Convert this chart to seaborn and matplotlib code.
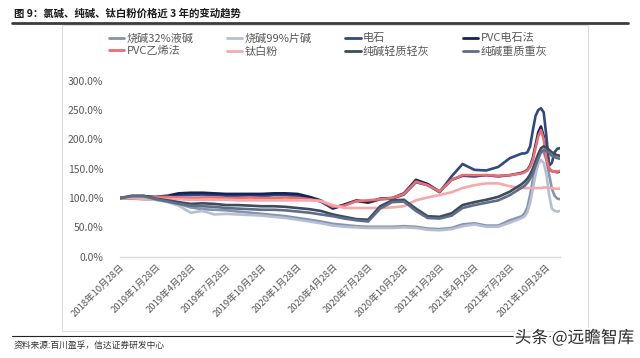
import numpy as np
import pandas as pd
import matplotlib
matplotlib.use("Agg")
import matplotlib.pyplot as plt
from matplotlib.lines import Line2D
from matplotlib.patches import Rectangle
import matplotlib.patheffects as pe
from matplotlib.ticker import FuncFormatter
import seaborn as sns

# ---------------- data ----------------
dates = [
    "2018-10-28", "2018-11-28", "2018-12-28", "2019-01-28", "2019-02-28", "2019-03-28",
    "2019-04-28", "2019-05-28", "2019-06-28", "2019-07-28", "2019-08-28", "2019-09-28",
    "2019-10-28", "2019-11-28", "2019-12-28", "2020-01-28", "2020-02-28", "2020-03-28",
    "2020-04-28", "2020-05-28", "2020-06-28", "2020-07-28", "2020-08-28", "2020-09-28",
    "2020-10-28", "2020-11-28", "2020-12-28", "2021-01-28", "2021-02-28", "2021-03-28",
    "2021-04-28", "2021-05-28", "2021-06-28", "2021-07-28", "2021-08-28",
    "2021-09-04", "2021-09-11", "2021-09-18", "2021-09-25", "2021-10-02", "2021-10-09",
    "2021-10-16", "2021-10-23", "2021-10-30", "2021-11-06", "2021-11-13", "2021-11-20",
    "2021-11-27", "2021-12-04",
]

caustic_32 = [100, 99, 98, 97, 95, 90, 84, 81, 80, 79, 77, 75, 73, 71, 69, 66, 63, 60,
              56, 54, 52, 51, 51, 51, 52, 51, 48, 47, 49, 55, 57, 53, 53, 62, 69,
              74, 84, 105, 130, 155, 172, 180, 178, 165, 140, 116, 104, 99, 98]
caustic_99 = [100, 100, 98, 97, 93, 87, 75, 78, 72, 73, 72, 71, 70, 68, 66, 63, 60, 57,
              53, 51, 50, 49, 49, 49, 50, 49, 46, 45, 47, 52, 55, 51, 51, 58, 66,
              69, 76, 92, 115, 140, 158, 165, 160, 140, 105, 82, 78, 77, 78]
carbide = [100, 101, 102, 100, 102, 105, 105, 106, 105, 104, 104, 104, 103, 105, 105, 103, 99, 94,
           82, 88, 95, 92, 98, 99, 106, 127, 122, 110, 137, 158, 148, 147, 153, 168, 176,
           176, 178, 188, 215, 240, 250, 253, 246, 205, 155, 160, 178, 184, 185]
pvc_carbide = [100, 101, 103, 102, 104, 108, 109, 109, 108, 107, 107, 107, 107, 108, 108, 107, 102, 96,
               83, 89, 96, 93, 99, 100, 108, 131, 124, 111, 131, 138, 137, 139, 137, 139, 143,
               145, 148, 155, 168, 190, 212, 222, 205, 170, 150, 146, 145, 144, 145]
pvc_ethylene = [100, 99, 101, 102, 102, 101, 100, 101, 101, 100, 100, 101, 100, 100, 101, 100, 98, 95,
                85, 87, 95, 96, 98, 100, 107, 128, 122, 111, 131, 139, 139, 139, 138, 139, 142,
                144, 147, 153, 165, 185, 205, 216, 200, 168, 150, 146, 145, 145, 146]
tio2 = [100, 100, 99, 99, 98, 98, 97, 97, 97, 97, 96, 96, 96, 96, 96, 96, 96, 95,
        88, 83, 83, 83, 83, 84, 86, 96, 101, 105, 110, 117, 122, 125, 125, 120, 117,
        117, 117, 117, 117, 117, 117, 117, 118, 118, 117, 117, 116, 116, 116]
soda_light = [100, 104, 104, 99, 96, 93, 90, 91, 90, 88, 88, 87, 86, 86, 85, 83, 81, 78,
              72, 68, 64, 63, 86, 96, 97, 82, 69, 68, 74, 88, 93, 97, 102, 111, 124,
              128, 133, 140, 150, 163, 175, 185, 188, 186, 182, 178, 175, 173, 172]
soda_heavy = [100, 103, 103, 98, 94, 90, 87, 86, 85, 83, 82, 81, 80, 80, 79, 77, 75, 72,
              69, 65, 62, 60, 82, 93, 94, 78, 66, 65, 70, 83, 88, 92, 96, 105, 118,
              121, 126, 133, 142, 155, 167, 178, 182, 180, 177, 172, 170, 168, 167]

series_names = ["烧碱32%液碱", "烧碱99%片碱", "电石", "PVC电石法",
                "PVC乙烯法", "钛白粉", "纯碱轻质轻灰", "纯碱重质重灰"]
series_values = [caustic_32, caustic_99, carbide, pvc_carbide,
                 pvc_ethylene, tio2, soda_light, soda_heavy]
colors = ["#8394ae", "#b6bfd2", "#2f4a7c", "#15225a",
          "#ec6e72", "#f5a9ab", "#3e4a5e", "#5e6e86"]

tick_dates = ["2018-10-28", "2019-01-28", "2019-04-28", "2019-07-28", "2019-10-28",
              "2020-01-28", "2020-04-28", "2020-07-28", "2020-10-28", "2021-01-28",
              "2021-04-28", "2021-07-28", "2021-10-28"]
tick_labels = ["2018年10月28日", "2019年1月28日", "2019年4月28日", "2019年7月28日",
               "2019年10月28日", "2020年1月28日", "2020年4月28日", "2020年7月28日",
               "2020年10月28日", "2021年1月28日", "2021年4月28日", "2021年7月28日",
               "2021年10月28日"]

# ---------------- figure ----------------
sns.set_theme(style="white")
plt.rcParams['font.family'] = ['Noto Sans CJK SC', 'DejaVu Sans']
plt.rcParams['axes.unicode_minus'] = False

W, H = 640, 358
fig = plt.figure(figsize=(W / 100, H / 100), dpi=100)
fig.patch.set_facecolor("white")

ax_left, ax_right, ax_top, ax_bot = 120, 560, 80.7, 256.7
ax = fig.add_axes([ax_left / W, 1 - ax_bot / H, (ax_right - ax_left) / W, (ax_bot - ax_top) / H])
ax.set_facecolor("white")

df = pd.DataFrame({"date": pd.to_datetime(dates)})
for n, v in zip(series_names, series_values):
    df[n] = v
long = df.melt(id_vars="date", var_name="series", value_name="value")

sns.lineplot(data=long, x="date", y="value", hue="series", hue_order=series_names,
             palette=dict(zip(series_names, colors)), linewidth=1.9, ax=ax, legend=False)

ax.set_ylim(0, 300)
ax.set_yticks(np.arange(0, 301, 50))
ax.yaxis.set_major_formatter(FuncFormatter(lambda v, p: f"{v:.1f}%"))
ax.set_xlim(pd.Timestamp("2018-10-28"), pd.Timestamp("2021-12-04"))
ax.set_xticks(pd.to_datetime(tick_dates))
ax.set_xticklabels(tick_labels)
for lbl in ax.get_xticklabels():
    lbl.set_rotation(45)
    lbl.set_ha("right")
    lbl.set_rotation_mode("anchor")
ax.tick_params(axis="x", labelsize=6.8, colors="#595959", length=0, pad=4)
ax.tick_params(axis="y", labelsize=7.5, colors="#595959", length=0, pad=12)
ax.set_xlabel("")
ax.set_ylabel("")
for s in ["left", "right", "top"]:
    ax.spines[s].set_visible(False)
ax.spines["bottom"].set_color("#d9d9d9")
ax.spines["bottom"].set_linewidth(1.0)
ax.grid(False)

# legend (column-major order for matplotlib)
order = [0, 4, 1, 5, 2, 6, 3, 7]
handles = [Line2D([0], [0], color=colors[i], lw=2) for i in order]
labels = [series_names[i] for i in order]
fig.legend(handles, labels, ncol=4, loc="center", bbox_to_anchor=(328 / W, 1 - 45 / H),
           frameon=False, fontsize=8, handlelength=1.4, handletextpad=0.2,
           columnspacing=3.0, labelspacing=0.25, labelcolor="#595959")

# chart area border
fig.add_artist(Rectangle((62 / W, 1 - 331 / H), (588 - 62) / W, (331 - 25) / H,
                         transform=fig.transFigure, fill=False, ec="#dcdcdc", lw=0.8))

# title and rules
fig.text(14 / W, 1 - 13 / H, "图 9：氯碱、纯碱、钛白粉价格近 3 年的变动趋势",
         fontsize=7.5, fontweight="bold", color="#1a1a1a", va="center", ha="left")
fig.add_artist(Line2D([12 / W, 628 / W], [1 - 23 / H, 1 - 23 / H],
                      transform=fig.transFigure, color="#3c3c3c", lw=2))
fig.add_artist(Line2D([12 / W, 628 / W], [1 - 336 / H, 1 - 336 / H],
                      transform=fig.transFigure, color="#222222", lw=0.8))
fig.text(14 / W, 1 - 345 / H, "资料来源:百川盈孚，信达证券研发中心",
         fontsize=6.3, color="#333333", va="center", ha="left")
fig.text(634 / W, 1 - 338 / H, "头条 @远瞻智库", fontsize=12, color="#2a2a2a",
         va="center", ha="right",
         path_effects=[pe.withStroke(linewidth=3, foreground="white")])

fig.savefig("out.png", dpi=100, facecolor="white")
